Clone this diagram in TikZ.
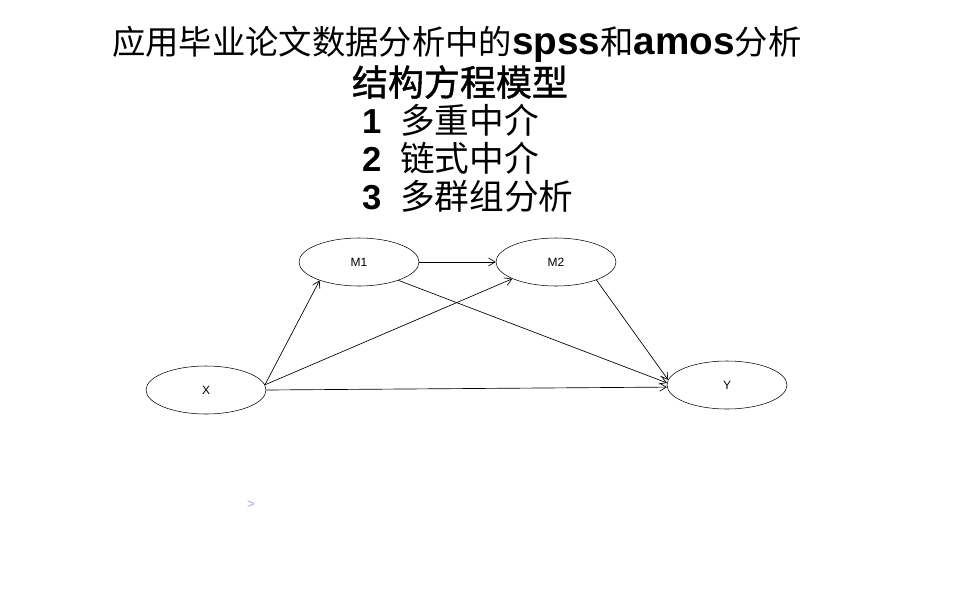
\documentclass[tikz,border=0pt]{standalone}
\usepackage{fontspec}
\setmainfont{Liberation Sans}
\newfontfamily\cjk{Noto Sans CJK SC}
\newfontfamily\cjkb{Noto Sans CJK SC}[FakeBold=1.2]
\usetikzlibrary{shapes.geometric,arrows.meta}
\begin{document}
\begin{tikzpicture}[x=0.75pt,y=-0.75pt,
  var/.style={draw,ellipse,minimum width=90pt,minimum height=36pt,inner sep=0pt,font=\fontsize{9}{10}\selectfont},
  link/.style={-{Straight Barb[length=5pt,width=6pt]},line width=0.5pt}]
\path[use as bounding box,fill=white] (0,0) rectangle (960,600);
\node[anchor=west,inner sep=0pt] (t1) at (112,44) {\fontsize{25}{28}\selectfont{\cjk 应用毕业论文数据分析中的}{\fontsize{29}{30}\selectfont\textbf{spss}}{\cjk 和}{\fontsize{29}{30}\selectfont\textbf{amos}}{\cjk 分析}};
\node[inner sep=0pt] (t2) at (460,82) {\fontsize{27}{30}\selectfont\cjkb 结构方程模型};
\node[anchor=west,inner sep=0pt] (t3) at (362,120) {\fontsize{26}{28}\selectfont\textbf{1}\hspace{14pt}{\cjk 多重中介}};
\node[anchor=west,inner sep=0pt] (t4) at (362,158) {\fontsize{26}{28}\selectfont\textbf{2}\hspace{14pt}{\cjk 链式中介}};
\node[anchor=west,inner sep=0pt] (t5) at (362,196) {\fontsize{26}{28}\selectfont\textbf{3}\hspace{14pt}{\cjk 多群组分析}};
\node[var] (X) at (206,390) {X};
\node[var] (M1) at (359,262) {M1};
\node[var] (M2) at (556,262) {M2};
\node[var] (Y) at (727,385) {Y};
\draw[link] (X.5) -- (M1.205);
\draw[link] (X.5) -- (M2.201);
\draw[link] (X.east) -- (Y.182);
\draw[link] (M1.east) -- (M2.west);
\draw[link] (M1.-25) -- (Y.178);
\draw[link] (M2.-24) -- (Y.175);
\node[text=cyan!40!blue!40,font=\fontsize{10}{12}\selectfont] (gt) at (251,505) {>};
\end{tikzpicture}
\end{document}
